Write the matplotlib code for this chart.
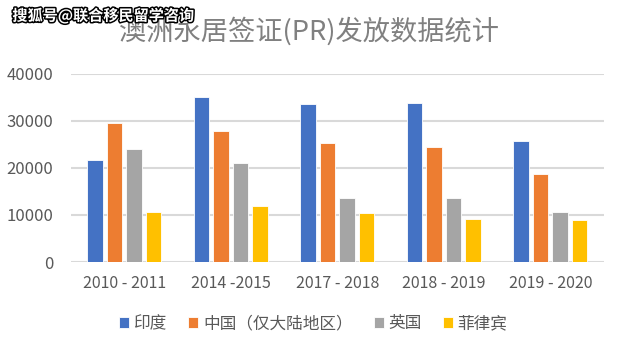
"""Australian PR visa grants by country, grouped bar chart."""

import matplotlib
matplotlib.use("Agg")

import matplotlib.pyplot as plt
import matplotlib.patheffects as pe
import numpy as np

plt.rcParams["font.family"] = ["Noto Sans CJK SC", "DejaVu Sans"]

# Data
years = ["2010 - 2011", "2014 -2015", "2017 - 2018", "2018 - 2019", "2019 - 2020"]
india = [21700, 35000, 33500, 33700, 25700]
china = [29600, 27900, 25200, 24400, 18600]
uk = [24000, 21000, 13600, 13600, 10700]
philippines = [10700, 11900, 10500, 9200, 9000]

series_names = ["印度", "中国（仅大陆地区）", "英国", "菲律宾"]
colors = ["#4472C4", "#ED7D31", "#A5A5A5", "#FFC000"]
text_gray = "#595959"

fig = plt.figure(figsize=(6.19, 3.48), dpi=100)
ax = fig.add_axes([0.115, 0.247, 0.86, 0.541])

x = np.arange(len(years))
width = 0.145
step = 0.183
for i, (vals, name, c) in enumerate(zip([india, china, uk, philippines],
                                        series_names, colors)):
    offset = (i - 1.5) * step
    ax.bar(x + offset, vals, width, color=c, label=name,
           edgecolor="white", linewidth=0.6, zorder=3)

ax.set_xlim(-0.5, len(years) - 0.5)
ax.set_ylim(0, 40000)
ax.set_yticks(range(0, 40001, 10000))
ax.set_xticks(x)
ax.set_xticklabels(years)
ax.grid(axis="y", color="#d9d9d9", linewidth=1.5, zorder=0)
ax.tick_params(axis="both", length=0, colors=text_gray)
ax.tick_params(axis="x", pad=9, labelsize=11.5)
ax.tick_params(axis="y", pad=13, labelsize=12)
for s in ax.spines.values():
    s.set_visible(False)

fig.text(0.5, 0.911, "澳洲永居签证(PR)发放数据统计", ha="center", va="center",
         fontsize=19.6, color="#808080")

wm = fig.text(0.02, 0.954, "搜狐号@联合移民留学咨询", ha="left", va="center",
              fontsize=10.9, color="white", fontweight="bold")
wm.set_path_effects([pe.withStroke(linewidth=2.2, foreground="black")])

fig.legend(loc="center", bbox_to_anchor=(0.506, 0.069), ncol=4, frameon=False,
           fontsize=12, handlelength=0.6, handleheight=0.6, handletextpad=0.3,
           columnspacing=1.25, labelcolor=text_gray)

fig.savefig("out.png", dpi=100, facecolor="white")
